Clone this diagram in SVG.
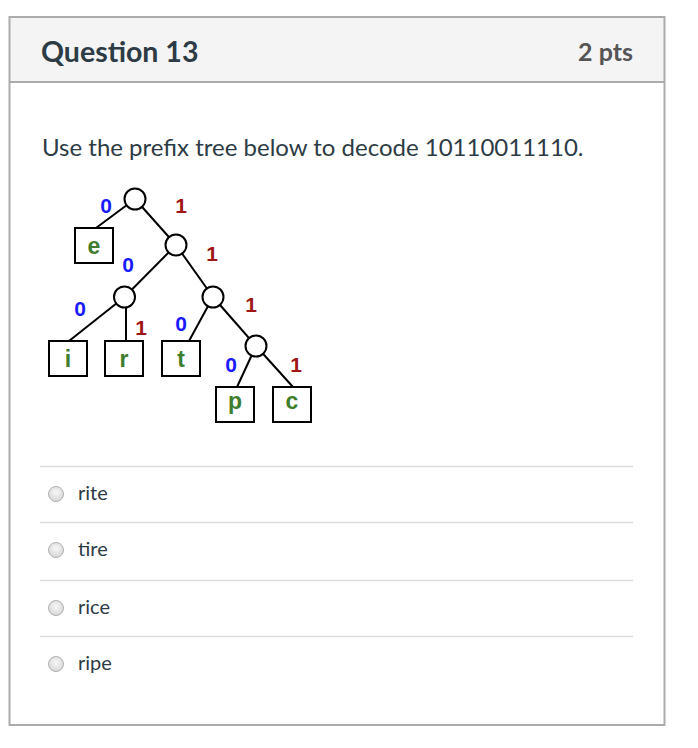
<svg xmlns="http://www.w3.org/2000/svg" width="698" height="748" viewBox="0 0 698 748">
<defs>
<radialGradient id="rg" cx="50%" cy="40%" r="60%">
<stop offset="0" stop-color="#f7f7f7"/>
<stop offset="1" stop-color="#d6d6d6"/>
</radialGradient>
</defs>
<style>
.hd{font-family:Lato,"Open Sans",sans-serif;font-weight:bold;}
.body{font-family:Lato,"Open Sans",sans-serif;fill:#2d3b45;}
.sep{stroke:#dcdcdc;stroke-width:1.5;}
.radio{fill:url(#rg);stroke:#b0b0b0;stroke-width:1;}
.edge{stroke:#000;stroke-width:2;fill:none;}
.nd{fill:#fff;stroke:#000;stroke-width:2;}
.bx{fill:#fff;stroke:#000;stroke-width:2;}
.lf{font-family:"Liberation Sans",Arial,sans-serif;font-weight:bold;font-size:23px;fill:#3e7d2b;text-anchor:middle;}
.b0{font-family:"Liberation Sans",Arial,sans-serif;font-weight:bold;font-size:21px;fill:#1a1aff;text-anchor:middle;}
.b1{font-family:"Liberation Sans",Arial,sans-serif;font-weight:bold;font-size:21px;fill:#a01616;text-anchor:middle;}
</style>
<rect x="0" y="0" width="698" height="748" fill="#fff"/>
<rect x="9.5" y="17" width="655" height="65" fill="#f4f4f4"/>
<rect x="9.5" y="17" width="655" height="708" fill="none" stroke="#ababab" stroke-width="2"/>
<line x1="9.5" y1="82" x2="664.5" y2="82" stroke="#ababab" stroke-width="2"/>
<text class="hd" x="41" y="62" font-size="28.5" fill="#2d3b45">Question 13</text>
<text class="hd" x="633" y="61" font-size="25" fill="#555" text-anchor="end">2 pts</text>
<text class="body" x="42" y="156" font-size="24">Use the prefix tree below to decode 10110011110.</text>

<g id="connectors">
<line class="edge" x1="135" y1="199" x2="96" y2="228"/>
<line class="edge" x1="135" y1="199" x2="176" y2="245"/>
<line class="edge" x1="176" y1="245" x2="124.5" y2="297"/>
<line class="edge" x1="176" y1="245" x2="213" y2="297"/>
<line class="edge" x1="124.5" y1="297" x2="69" y2="341"/>
<line class="edge" x1="126" y1="297" x2="126" y2="341"/>
<line class="edge" x1="213" y1="297" x2="189" y2="341"/>
<line class="edge" x1="213" y1="297" x2="256" y2="346"/>
<line class="edge" x1="256" y1="346" x2="237" y2="387"/>
<line class="edge" x1="256" y1="346" x2="293" y2="387"/>
</g>

<g id="n-root"><circle class="nd" cx="135" cy="199" r="10.5"/></g>
<g id="n-1"><circle class="nd" cx="176" cy="245" r="10.5"/></g>
<g id="n-10"><circle class="nd" cx="124.5" cy="297" r="10.5"/></g>
<g id="n-11"><circle class="nd" cx="213" cy="297" r="10.5"/></g>
<g id="n-111"><circle class="nd" cx="256" cy="346" r="10.5"/></g>

<g id="leaf-e"><rect class="bx" x="75" y="228" width="38" height="35"/><text class="lf" x="94" y="254">e</text></g>
<g id="leaf-i"><rect class="bx" x="49" y="341" width="38" height="35"/><text class="lf" x="68" y="367">i</text></g>
<g id="leaf-r"><rect class="bx" x="105" y="341" width="38" height="35"/><text class="lf" x="124" y="367">r</text></g>
<g id="leaf-t"><rect class="bx" x="162" y="341" width="38" height="35"/><text class="lf" x="181" y="367">t</text></g>
<g id="leaf-p"><rect class="bx" x="216" y="387" width="38" height="35"/><text class="lf" x="235" y="409">p</text></g>
<g id="leaf-c"><rect class="bx" x="273" y="387" width="38" height="35"/><text class="lf" x="292" y="409">c</text></g>

<g id="labels">
<text class="b0" x="106" y="213">0</text>
<text class="b1" x="181" y="213">1</text>
<text class="b0" x="128" y="272">0</text>
<text class="b1" x="212" y="261">1</text>
<text class="b0" x="80" y="316">0</text>
<text class="b1" x="141" y="335">1</text>
<text class="b0" x="181" y="331">0</text>
<text class="b1" x="251" y="312">1</text>
<text class="b0" x="231" y="372">0</text>
<text class="b1" x="296" y="372">1</text>
</g>

<g id="answers">
<line class="sep" x1="40" y1="466.5" x2="633" y2="466.5"/>
<circle class="radio" cx="56" cy="494" r="7.5"/>
<text class="body" x="78" y="500" font-size="20">rite</text>
<line class="sep" x1="40" y1="522.5" x2="633" y2="522.5"/>
<circle class="radio" cx="56" cy="550" r="7.5"/>
<text class="body" x="78" y="556" font-size="20">tire</text>
<line class="sep" x1="40" y1="580.5" x2="633" y2="580.5"/>
<circle class="radio" cx="56" cy="608" r="7.5"/>
<text class="body" x="78" y="614" font-size="20">rice</text>
<line class="sep" x1="40" y1="636.5" x2="633" y2="636.5"/>
<circle class="radio" cx="56" cy="664" r="7.5"/>
<text class="body" x="78" y="670" font-size="20">ripe</text>
</g>
</svg>
